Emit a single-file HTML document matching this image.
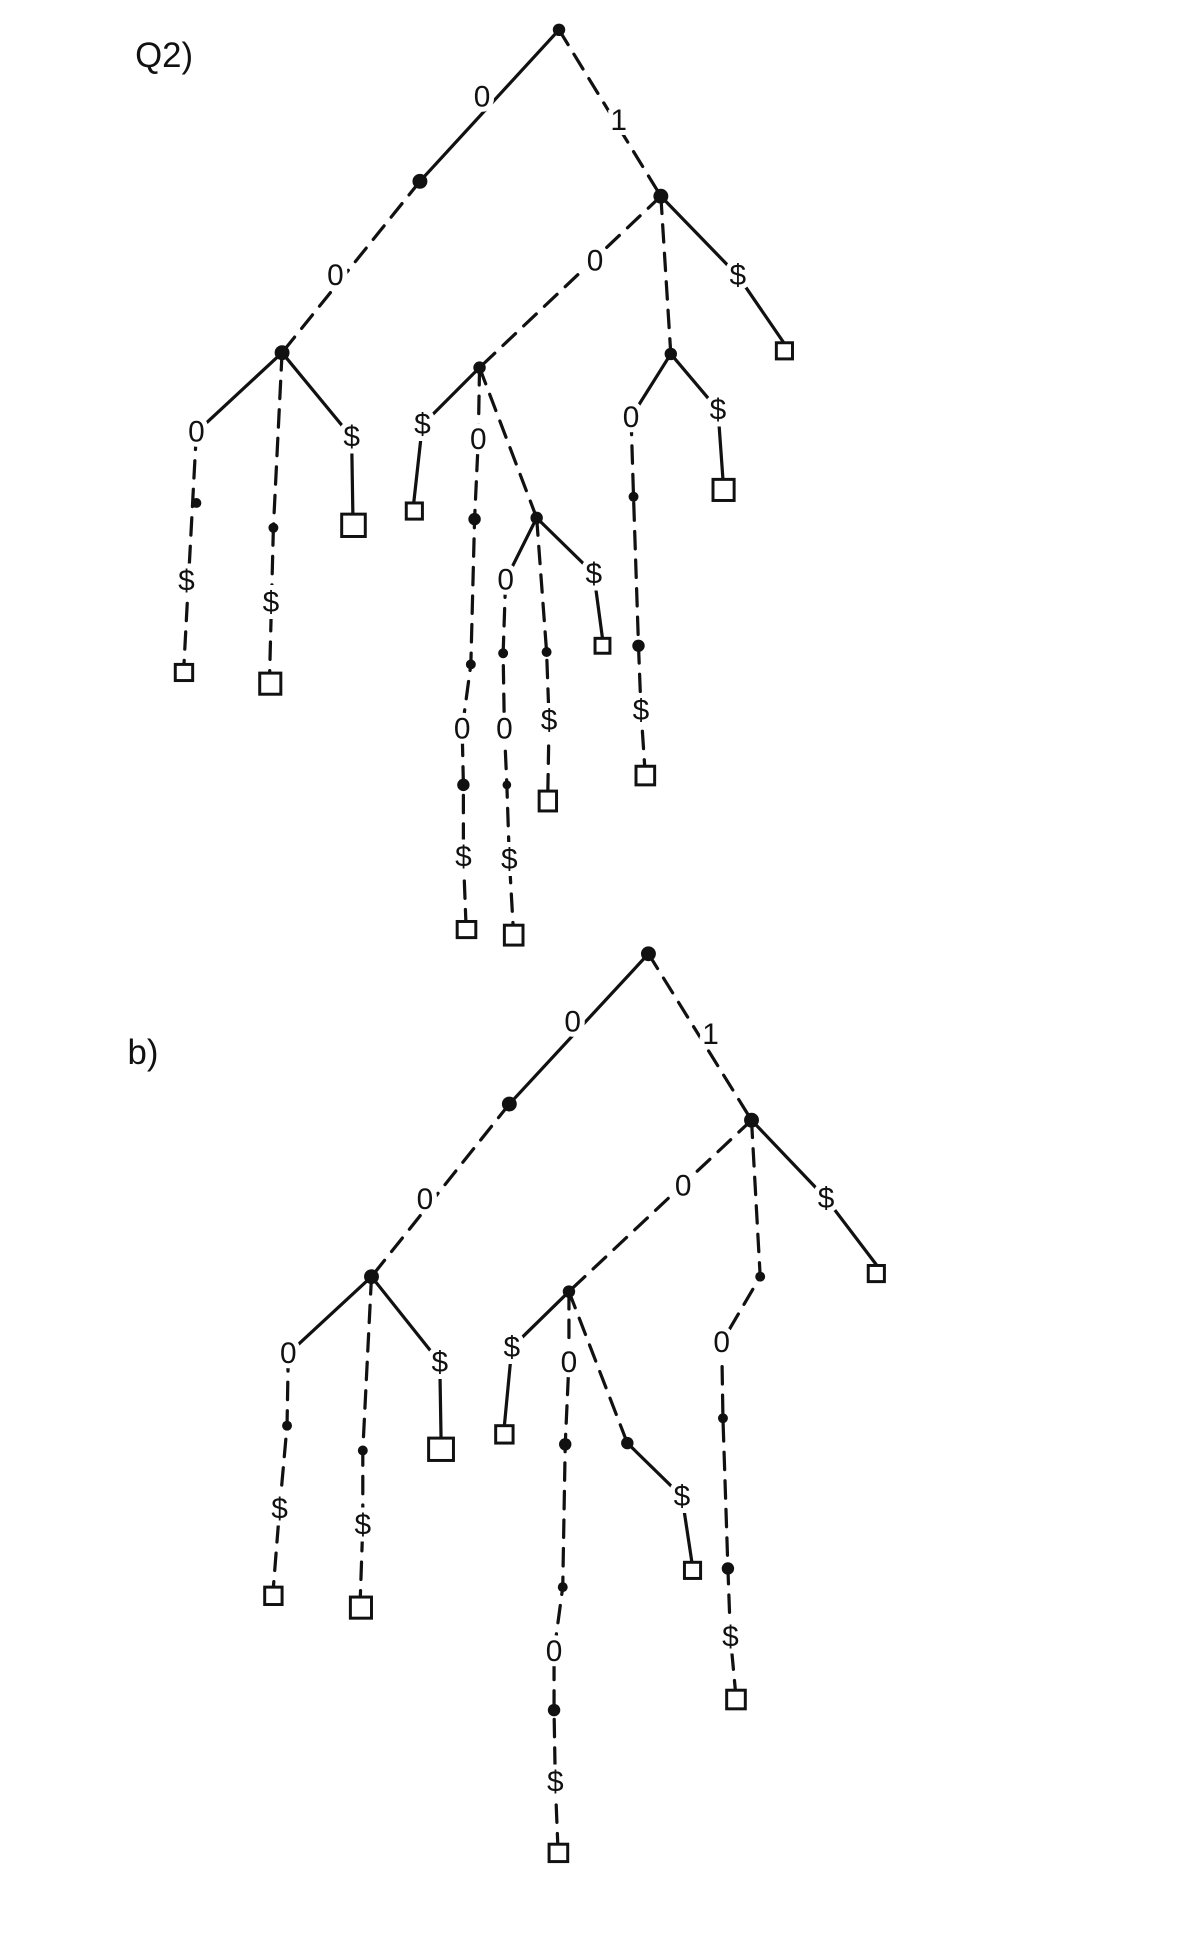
<!DOCTYPE html>
<html><head><meta charset="utf-8"><style>
html,body{margin:0;padding:0;background:#fff}
svg{display:block}
text{font-family:"Liberation Sans",sans-serif;font-size:24px;fill:#111;stroke:#fff;stroke-width:8px;paint-order:stroke;text-anchor:middle;dominant-baseline:central}
line,polyline{stroke:#111;stroke-width:2.6;fill:none;stroke-linecap:round}
.d{stroke-dasharray:14 9}
rect{fill:#fff;stroke:#111;stroke-width:2.4}
circle{fill:#111}
</style></head><body>
<svg width="1200" height="1951" viewBox="0 0 966 1571" xmlns="http://www.w3.org/2000/svg">
<!-- Tree 1 -->
<line x1="450" y1="24" x2="338" y2="146"/>
<line x1="450" y1="24" x2="532" y2="158" class="d"/>
<line x1="338" y1="146" x2="227" y2="284" class="d"/>
<line x1="227" y1="284" x2="158" y2="348"/><line x1="158" y1="348" x2="148" y2="535" class="d"/>
<line x1="227" y1="284" x2="220" y2="425" class="d"/><line x1="220" y1="425" x2="217" y2="542" class="d"/>
<line x1="227" y1="284" x2="283" y2="352"/><line x1="283" y1="352" x2="284" y2="414"/>
<line x1="532" y1="158" x2="386" y2="296" class="d"/>
<line x1="532" y1="158" x2="540" y2="285" class="d"/>
<line x1="532" y1="158" x2="594" y2="222"/><line x1="594" y1="222" x2="631" y2="276"/>
<line x1="386" y1="296" x2="340" y2="342"/><line x1="340" y1="342" x2="333" y2="405"/>
<polyline points="386,296 385,354 382,418 379,535 372,587 373,632 373,690 375,742" class="d"/>
<line x1="386" y1="296" x2="432" y2="417" class="d"/>
<line x1="432" y1="417" x2="407" y2="467"/><polyline points="407,467 405,526 406,587 408,632 410,692 413,745" class="d"/>
<polyline points="432,417 440,525 442,580 441,637" class="d"/>
<line x1="432" y1="417" x2="478" y2="462"/><line x1="478" y1="462" x2="485" y2="514"/>
<line x1="540" y1="285" x2="508" y2="336"/><polyline points="508,336 510,400 514,520 516,572 519,617" class="d"/>
<line x1="540" y1="285" x2="578" y2="330"/><line x1="578" y1="330" x2="582" y2="386"/>
<g>
<circle cx="450" cy="24" r="5"/><circle cx="338" cy="146" r="6"/><circle cx="532" cy="158" r="6"/><circle cx="227" cy="284" r="6"/>
<circle cx="158" cy="405" r="4"/><circle cx="220" cy="425" r="4"/><circle cx="386" cy="296" r="5"/><circle cx="540" cy="285" r="5"/>
<circle cx="382" cy="418" r="5"/><circle cx="379" cy="535" r="4"/><circle cx="373" cy="632" r="5"/><circle cx="432" cy="417" r="5"/>
<circle cx="405" cy="526" r="4"/><circle cx="408" cy="632" r="3.5"/><circle cx="440" cy="525" r="4"/><circle cx="510" cy="400" r="4"/><circle cx="514" cy="520" r="5"/>
</g>
<rect x="141" y="535" width="14" height="13"/><rect x="209" y="542" width="17" height="17"/><rect x="275" y="414" width="19" height="18"/>
<rect x="625" y="276" width="13" height="13"/><rect x="327" y="405" width="13" height="13"/><rect x="368" y="742" width="15" height="13"/>
<rect x="406" y="745" width="15" height="16"/><rect x="434" y="637" width="14" height="16"/><rect x="479" y="514" width="12" height="12"/>
<rect x="512" y="617" width="15" height="15"/><rect x="574" y="386" width="17" height="17"/>
<text x="388" y="78">0</text><text x="498" y="97">1</text><text x="270" y="222">0</text>
<text x="158" y="348">0</text><text x="150" y="468">$</text><text x="218" y="485">$</text><text x="283" y="352">$</text>
<text x="479" y="210">0</text><text x="594" y="222">$</text><text x="340" y="342">$</text><text x="385" y="354">0</text>
<text x="372" y="587">0</text><text x="373" y="690">$</text><text x="407" y="467">0</text><text x="406" y="587">0</text>
<text x="410" y="692">$</text><text x="442" y="580">$</text><text x="478" y="462">$</text><text x="508" y="336">0</text>
<text x="516" y="572">$</text><text x="578" y="330">$</text>
<!-- Tree 2 -->
<line x1="522" y1="768" x2="410" y2="889"/>
<line x1="522" y1="768" x2="605" y2="902" class="d"/>
<line x1="410" y1="889" x2="299" y2="1028" class="d"/>
<line x1="299" y1="1028" x2="232" y2="1090"/><polyline points="232,1090 231,1148 225,1215 220,1278" class="d"/>
<polyline points="299,1028 292,1168 292,1228 290,1286" class="d"/>
<line x1="299" y1="1028" x2="354" y2="1097"/><line x1="354" y1="1097" x2="355" y2="1158"/>
<line x1="605" y1="902" x2="458" y2="1040" class="d"/>
<polyline points="605,902 612,1028 581,1081 582,1142 586,1263 588,1318 592,1361" class="d"/>
<line x1="605" y1="902" x2="665" y2="965"/><line x1="665" y1="965" x2="706" y2="1019"/>
<line x1="458" y1="1040" x2="412" y2="1085"/><line x1="412" y1="1085" x2="406" y2="1148"/>
<polyline points="458,1040 458,1097 455,1163 453,1278 446,1330 446,1377 447,1435 449,1485" class="d"/>
<line x1="458" y1="1040" x2="505" y2="1162" class="d"/><line x1="505" y1="1162" x2="549" y2="1205"/><line x1="549" y1="1205" x2="557" y2="1258"/>
<circle cx="522" cy="768" r="6"/><circle cx="410" cy="889" r="6"/><circle cx="605" cy="902" r="6"/><circle cx="299" cy="1028" r="6"/>
<circle cx="231" cy="1148" r="4"/><circle cx="292" cy="1168" r="4"/><circle cx="612" cy="1028" r="4"/><circle cx="458" cy="1040" r="5"/>
<circle cx="455" cy="1163" r="5"/><circle cx="453" cy="1278" r="4"/><circle cx="446" cy="1377" r="5"/><circle cx="505" cy="1162" r="5"/>
<circle cx="582" cy="1142" r="4"/><circle cx="586" cy="1263" r="5"/>
<rect x="213" y="1278" width="14" height="14"/><rect x="282" y="1286" width="17" height="17"/><rect x="345" y="1158" width="20" height="18"/>
<rect x="699" y="1019" width="13" height="13"/><rect x="399" y="1148" width="14" height="14"/><rect x="551" y="1258" width="13" height="13"/>
<rect x="585" y="1361" width="15" height="15"/><rect x="442" y="1485" width="15" height="14"/>
<text x="461" y="823">0</text><text x="572" y="833">1</text><text x="342" y="966">0</text><text x="232" y="1090">0</text>
<text x="225" y="1215">$</text><text x="292" y="1228">$</text><text x="354" y="1097">$</text><text x="550" y="955">0</text>
<text x="665" y="965">$</text><text x="581" y="1081">0</text><text x="588" y="1318">$</text><text x="412" y="1085">$</text>
<text x="458" y="1097">0</text><text x="446" y="1330">0</text><text x="447" y="1435">$</text><text x="549" y="1205">$</text>
<text x="132" y="45" style="font-size:28px;stroke:none">Q2)</text>
<text x="115" y="848" style="font-size:28px;stroke:none">b)</text>
</svg>
</body></html>
